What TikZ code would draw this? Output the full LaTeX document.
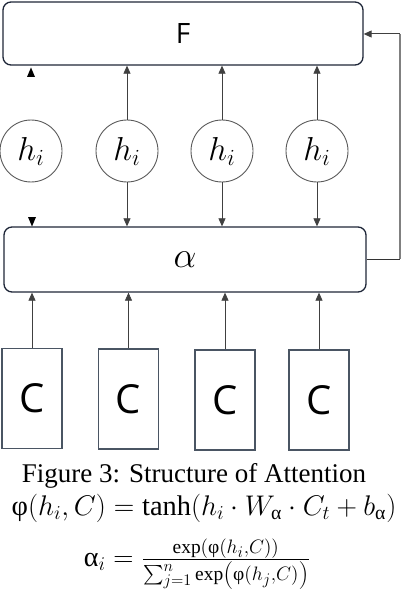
\documentclass[tikz,border=0pt]{standalone}
\usepackage{amsmath}
\usepackage{fontspec}
\setmainfont{Liberation Serif}
\newfontfamily\boxfont{Open Sans}
\usetikzlibrary{arrows.meta}
\definecolor{navy}{RGB}{30,38,56}
\definecolor{slate}{RGB}{74,85,99}
\tikzset{
  bigbox/.style={draw=navy, line width=1.3pt, rounded corners=8pt, inner sep=0pt},
  hnode/.style={draw=black!65, line width=0.9pt, circle, minimum size=62pt, inner sep=0pt},
  cbox/.style={draw=slate, line width=1.8pt, inner sep=0pt, minimum width=60pt, minimum height=100pt},
  arr/.style={draw=black!75, line width=0.7pt, -{Triangle[length=8pt,width=7pt]}},
  fb/.style={line width=1pt},
}
\newcommand{\gph}{\text{φ}}
\newcommand{\gal}{\text{α}}
\newcommand{\bigmath}[2]{\fontsize{20.74}{24}\selectfont\scalebox{#1}{#2}}
\begin{document}
\begin{tikzpicture}[x=1pt,y=-1pt]
\useasboundingbox (0,0) rectangle (402,596);
% top and middle boxes
\node[bigbox, minimum width=360pt, minimum height=63pt] (F) at (183,33.5) {\boxfont\fontsize{28}{28}\selectfont F};
\node[bigbox, minimum width=362pt, minimum height=65pt] (A) at (185,259.5) {\bigmath{1.75}{$\alpha$}};
% h nodes
\foreach \i/\x in {1/31,2/127,3/222,4/317}{
  \node[hnode] (h\i) at (\x,151) {\bigmath{1.6}{$h_i$}};
}
% C boxes
\node[cbox] (c1) at (32,398.5) {\boxfont\fontsize{40}{40}\selectfont C};
\node[cbox] (c2) at (128.5,399) {\boxfont\fontsize{40}{40}\selectfont C};
\node[cbox] (c3) at (225,400) {\boxfont\fontsize{40}{40}\selectfont C};
\node[cbox] (c4) at (319,400) {\boxfont\fontsize{40}{40}\selectfont C};
% arrowheads without shafts (first column)
\coordinate (t1) at (31,67.5);
\fill (t1) -- ++(-4pt,-9.5pt) -- ++(8pt,0pt) -- cycle;
\coordinate (t2) at (32,226.5);
\fill (t2) -- ++(-4pt,9.5pt) -- ++(8pt,0pt) -- cycle;
% arrows h -> F
\foreach \i in {2,3,4}{
  \draw[arr] (h\i.north) -- (h\i.north |- F.south);
}
% arrows h -> alpha
\foreach \i in {2,3,4}{
  \draw[arr] (h\i.south) -- (h\i.south |- A.north);
}
% arrows C -> alpha
\foreach \i in {1,2,3,4}{
  \draw[arr] (c\i.north) -- (c\i.north |- A.south);
}
% feedback
\coordinate (r1) at (400,259);
\coordinate (r2) at (400,34);
\draw[fb, black!80] (A.east |- r1) -- (r1);
\draw[fb, gray, line width=1.6pt] (r1) -- (r2);
\draw[arr, line width=1pt] (r2) -- (F.east |- r2);
% caption
\node[anchor=base, inner sep=0pt] (cap) at (194,482) {\fontsize{27}{27}\selectfont Figure 3: Structure of Attention};
\node[anchor=base, inner sep=0pt] (eq1) at (204,515) {\bigmath{1.37}{$\gph(h_i,C)=\tanh(h_i\cdot W_{\gal}\cdot C_t+b_{\gal})$}};
\node[inner sep=0pt] (eq2) at (197,564) {\bigmath{1.35}{$\textstyle \gal_i=\frac{\exp(\gph(h_i,C))}{\sum_{j=1}^{n}\exp\left(\gph(h_j,C)\right)}$}};
\end{tikzpicture}
\end{document}
